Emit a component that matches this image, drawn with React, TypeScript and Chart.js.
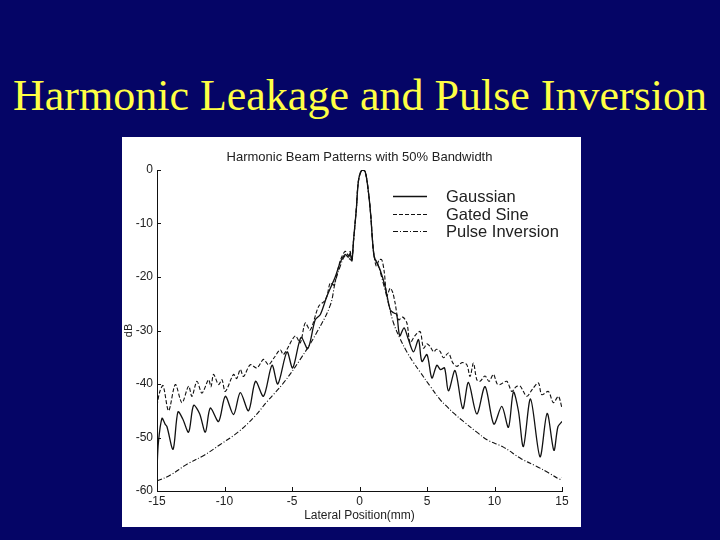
import React, { useEffect, useRef } from "react";
import { Chart, registerables } from "chart.js";
Chart.register(...registerables);

const pageTitle = "Harmonic Leakage and Pulse Inversion";
const chartTitle = "Harmonic Beam Patterns with 50% Bandwidth";
const xAxisTitle = "Lateral Position(mm)";
const yAxisTitle = "dB";
const seriesNames = ["Gaussian", "Gated Sine", "Pulse Inversion"];

const xTickMin = -15;
const xTickMax = 15;
const xTickStep = 5;
const yTickMin = -60;
const yTickMax = 0;
const yTickStep = 10;

const gaussianX = [-15, -14.9, -14.63, -14.4, -14.26, -13.81, -13.45, -13.1, -12.66, -12.29, -11.85, -11.42, -11.05, -10.44, -9.94, -9.33, -8.83, -8.22, -7.7, -7.11, -6.48, -6.05, -5.37, -4.95, -4.33, -3.83, -3.28, -2.9, -2.4, -1.8, -1.43, -1.06, -0.81, -0.69, -0.56, -0.44, -0.24, -0.07, 0.18, 0.42, 0.67, 0.84, 0.96, 1.09, 1.29, 1.53, 1.9, 2.27, 2.52, 2.75, 2.98, 3.3, 3.6, 4.0, 4.37, 4.62, 5.0, 5.36, 5.73, 6.0, 6.3, 6.59, 7.08, 7.65, 8.07, 8.69, 9.3, 9.95, 10.54, 11.03, 11.4, 11.77, 12.14, 12.67, 13.37, 13.9, 14.4, 14.7, 15];
const gaussianY = [-56, -51, -46.4, -47.5, -48, -52.2, -45.2, -46.5, -49, -44, -45.5, -49, -44.5, -47, -42.3, -45.7, -41.6, -45, -39.5, -42.3, -36.5, -40, -34, -37, -31.3, -33.4, -28, -27, -23.5, -20, -17.3, -15.8, -16.3, -15.6, -17, -13.1, -7.5, -1.9, 0, -0.3, -4.3, -8.7, -13.1, -16.2, -17.4, -18.7, -21.8, -26.1, -26.7, -27, -31, -29.5, -31.5, -34, -31.7, -35.8, -34.5, -38.9, -36.5, -37.3, -37, -41.3, -37.5, -44.6, -39.7, -45.6, -40.5, -47.5, -44.2, -48.1, -41.5, -45, -51.7, -42.8, -53.6, -45.5, -52.4, -48, -47];

const gatedX = [-15, -14.8, -14.55, -14.14, -13.64, -13.15, -12.66, -12.41, -12.04, -11.67, -11.18, -11.0, -10.81, -10.44, -10.19, -9.94, -9.33, -9.1, -8.83, -8.59, -8.09, -7.6, -7.11, -6.74, -6.3, -5.87, -5.63, -4.76, -4.39, -4.02, -3.65, -3.03, -2.6, -2.4, -2.17, -1.9, -1.43, -1.06, -0.81, -0.69, -0.56, -0.44, -0.24, -0.07, 0.18, 0.42, 0.67, 0.84, 0.96, 1.09, 1.25, 1.45, 1.65, 1.83, 2.03, 2.27, 2.45, 2.64, 2.89, 3.2, 3.51, 3.75, 4.1, 4.49, 4.74, 5.0, 5.23, 5.5, 5.7, 5.97, 6.22, 6.59, 6.9, 7.21, 7.6, 7.95, 8.19, 8.44, 8.69, 8.93, 9.3, 9.6, 9.92, 10.2, 10.41, 10.91, 11.28, 11.6, 11.9, 12.39, 12.8, 13.25, 13.5, 13.99, 14.36, 14.73, 15];
const gatedY = [-44, -41.5, -40.3, -45, -40.1, -43.5, -40.4, -42.3, -39.5, -41.7, -39.2, -40.5, -38.2, -40.1, -39.2, -41.4, -38.2, -39, -37.3, -38.6, -36.4, -37, -35.4, -36.4, -35, -33.6, -34.5, -31, -32.3, -28.6, -29.9, -25.5, -24.5, -23.5, -21.1, -21.5, -17, -15.2, -16, -15.2, -17, -13.1, -7.5, -1.9, 0, -0.3, -4.3, -8.7, -13.1, -16.2, -18, -16.8, -16.8, -19, -23.5, -22.1, -22.8, -24.9, -28, -27.5, -28.6, -32.3, -31, -30.2, -33.3, -32.5, -33, -34, -33.5, -33.9, -35.1, -34.2, -36, -36.7, -36, -36.4, -38.6, -36.1, -39.2, -39.5, -38.5, -39.5, -38.2, -40, -40.1, -39.5, -41.4, -40.5, -40.4, -42.3, -41, -39.8, -42, -41.4, -43.5, -42.3, -44.5];

const pulseX = [-15, -14.88, -14, -12.78, -11.5, -10.31, -9, -7.85, -6.85, -5.63, -4.39, -3.15, -2.17, -1.8, -1.43, -1.06, -0.8, -0.6, -0.44, -0.24, -0.07, 0.18, 0.42, 0.67, 0.84, 0.96, 1.09, 1.3, 1.53, 1.9, 2.2, 2.52, 3.0, 3.51, 4.0, 4.5, 5.23, 6.0, 6.47, 7.0, 7.7, 8.69, 9.5, 10.66, 12.0, 13.13, 14.0, 14.86, 15];
const pulseY = [-58, -58, -57, -55, -53.3, -51.3, -49, -46.3, -43.3, -39.8, -35.4, -30.3, -25.3, -21, -18, -16, -16.5, -16.8, -13.1, -7.5, -1.9, 0, -0.3, -4.3, -8.7, -13.1, -16.2, -17.2, -19, -22.5, -25.5, -28.6, -31.5, -34, -36, -37.8, -40.4, -43, -44.2, -45.5, -47, -49, -50.5, -51.8, -54, -55.4, -56.6, -57.8, -57.5];

const NAVY = "#050566";
const INK = "#111111";
const TEXT = "#222222";
const SANS = '"Liberation Sans", Arial, Helvetica, sans-serif';

const toPoints = (xs: number[], ys: number[]) => xs.map((x, i) => ({ x, y: ys[i] }));

const dashes: number[][] = [[], [4, 2], [5, 2, 1, 2]];
const widths = [1.3, 1.1, 1.1];

const extrasPlugin = {
  id: "extras",
  afterDraw(chart: any) {
    const { ctx, chartArea, scales } = chart;
    const xs = scales.x;
    const ys = scales.y;
    ctx.save();
    // inward tick marks
    ctx.strokeStyle = INK;
    ctx.lineWidth = 1;
    ctx.setLineDash([]);
    xs.ticks.forEach((t: any) => {
      const px = Math.round(xs.getPixelForValue(t.value)) + 0.5;
      ctx.beginPath();
      ctx.moveTo(px, chartArea.bottom);
      ctx.lineTo(px, chartArea.bottom - 4);
      ctx.stroke();
    });
    ys.ticks.forEach((t: any) => {
      const py = Math.round(ys.getPixelForValue(t.value)) + 0.5;
      ctx.beginPath();
      ctx.moveTo(chartArea.left, py);
      ctx.lineTo(chartArea.left + 4, py);
      ctx.stroke();
    });
    // chart title
    ctx.fillStyle = TEXT;
    ctx.font = `13px ${SANS}`;
    ctx.textAlign = "center";
    ctx.textBaseline = "middle";
    ctx.fillText(chartTitle, (chartArea.left + chartArea.right) / 2, 20);
    // legend
    const lx0 = 271;
    const lx1 = 305;
    const tx = 324;
    const rows = [59, 77, 94];
    ctx.font = `16.5px ${SANS}`;
    ctx.textAlign = "left";
    chart.data.datasets.forEach((ds: any, i: number) => {
      ctx.strokeStyle = INK;
      ctx.lineWidth = widths[i];
      ctx.setLineDash(dashes[i]);
      ctx.beginPath();
      ctx.moveTo(lx0, rows[i] + 0.5);
      ctx.lineTo(lx1, rows[i] + 0.5);
      ctx.stroke();
      ctx.setLineDash([]);
      ctx.fillStyle = TEXT;
      ctx.fillText(ds.label, tx, rows[i] + 1);
    });
    ctx.restore();
  },
};

export default function App() {
  const ref = useRef<HTMLCanvasElement>(null);
  useEffect(() => {
    const series = [
      toPoints(gaussianX, gaussianY),
      toPoints(gatedX, gatedY),
      toPoints(pulseX, pulseY),
    ];
    const chart = new Chart(ref.current as HTMLCanvasElement, {
      type: "scatter",
      data: {
        datasets: series.map((data, i) => ({
          label: seriesNames[i],
          data,
          showLine: true,
          borderColor: INK,
          backgroundColor: INK,
          borderWidth: widths[i],
          borderDash: dashes[i],
          pointRadius: 0,
          tension: i === 2 ? 0.4 : 0.3,
          fill: false,
        })),
      },
      options: {
        animation: false,
        responsive: false,
        devicePixelRatio: 1,
        layout: { padding: { left: 0, top: 33, right: 19, bottom: 0 } },
        plugins: {
          legend: { display: false },
          title: { display: false },
          tooltip: { enabled: false },
        },
        scales: {
          x: {
            type: "linear",
            min: xTickMin,
            max: xTickMax,
            afterFit: (s: any) => {
              s.height = 36;
            },
            grid: { display: false, drawTicks: false },
            border: { display: true, color: INK, width: 1 },
            ticks: {
              stepSize: xTickStep,
              padding: 3,
              color: TEXT,
              font: { family: SANS, size: 12 },
              maxRotation: 0,
            },
            title: {
              display: true,
              text: xAxisTitle,
              color: TEXT,
              font: { family: SANS, size: 12 },
              padding: { top: 0, bottom: 4 },
            },
          },
          y: {
            type: "linear",
            min: yTickMin,
            max: yTickMax,
            afterFit: (s: any) => {
              s.width = 35;
            },
            grid: { display: false, drawTicks: false },
            border: { display: true, color: INK, width: 1 },
            ticks: {
              stepSize: yTickStep,
              padding: 4,
              color: TEXT,
              font: { family: SANS, size: 12 },
            },
            title: {
              display: true,
              text: yAxisTitle,
              color: TEXT,
              font: { family: SANS, size: 11 },
              padding: { top: 0, bottom: 0 },
            },
          },
        },
      },
      plugins: [extrasPlugin],
    } as any);
    return () => chart.destroy();
  }, []);

  return (
    <div
      style={{
        position: "fixed",
        left: 0,
        top: 0,
        width: 720,
        height: 540,
        background: NAVY,
        overflow: "hidden",
      }}
    >
      <div
        style={{
          position: "absolute",
          left: 0,
          top: 74,
          width: 720,
          textAlign: "center",
          fontFamily: '"Liberation Serif", "Times New Roman", serif',
          fontSize: 44,
          lineHeight: "44px",
          color: "#ffff44",
          whiteSpace: "nowrap",
        }}
      >
        {pageTitle}
      </div>
      <div
        style={{
          position: "absolute",
          left: 122,
          top: 137,
          width: 459,
          height: 390,
          background: "#ffffff",
        }}
      >
        <canvas ref={ref} width={459} height={390} style={{ display: "block" }} />
      </div>
    </div>
  );
}
